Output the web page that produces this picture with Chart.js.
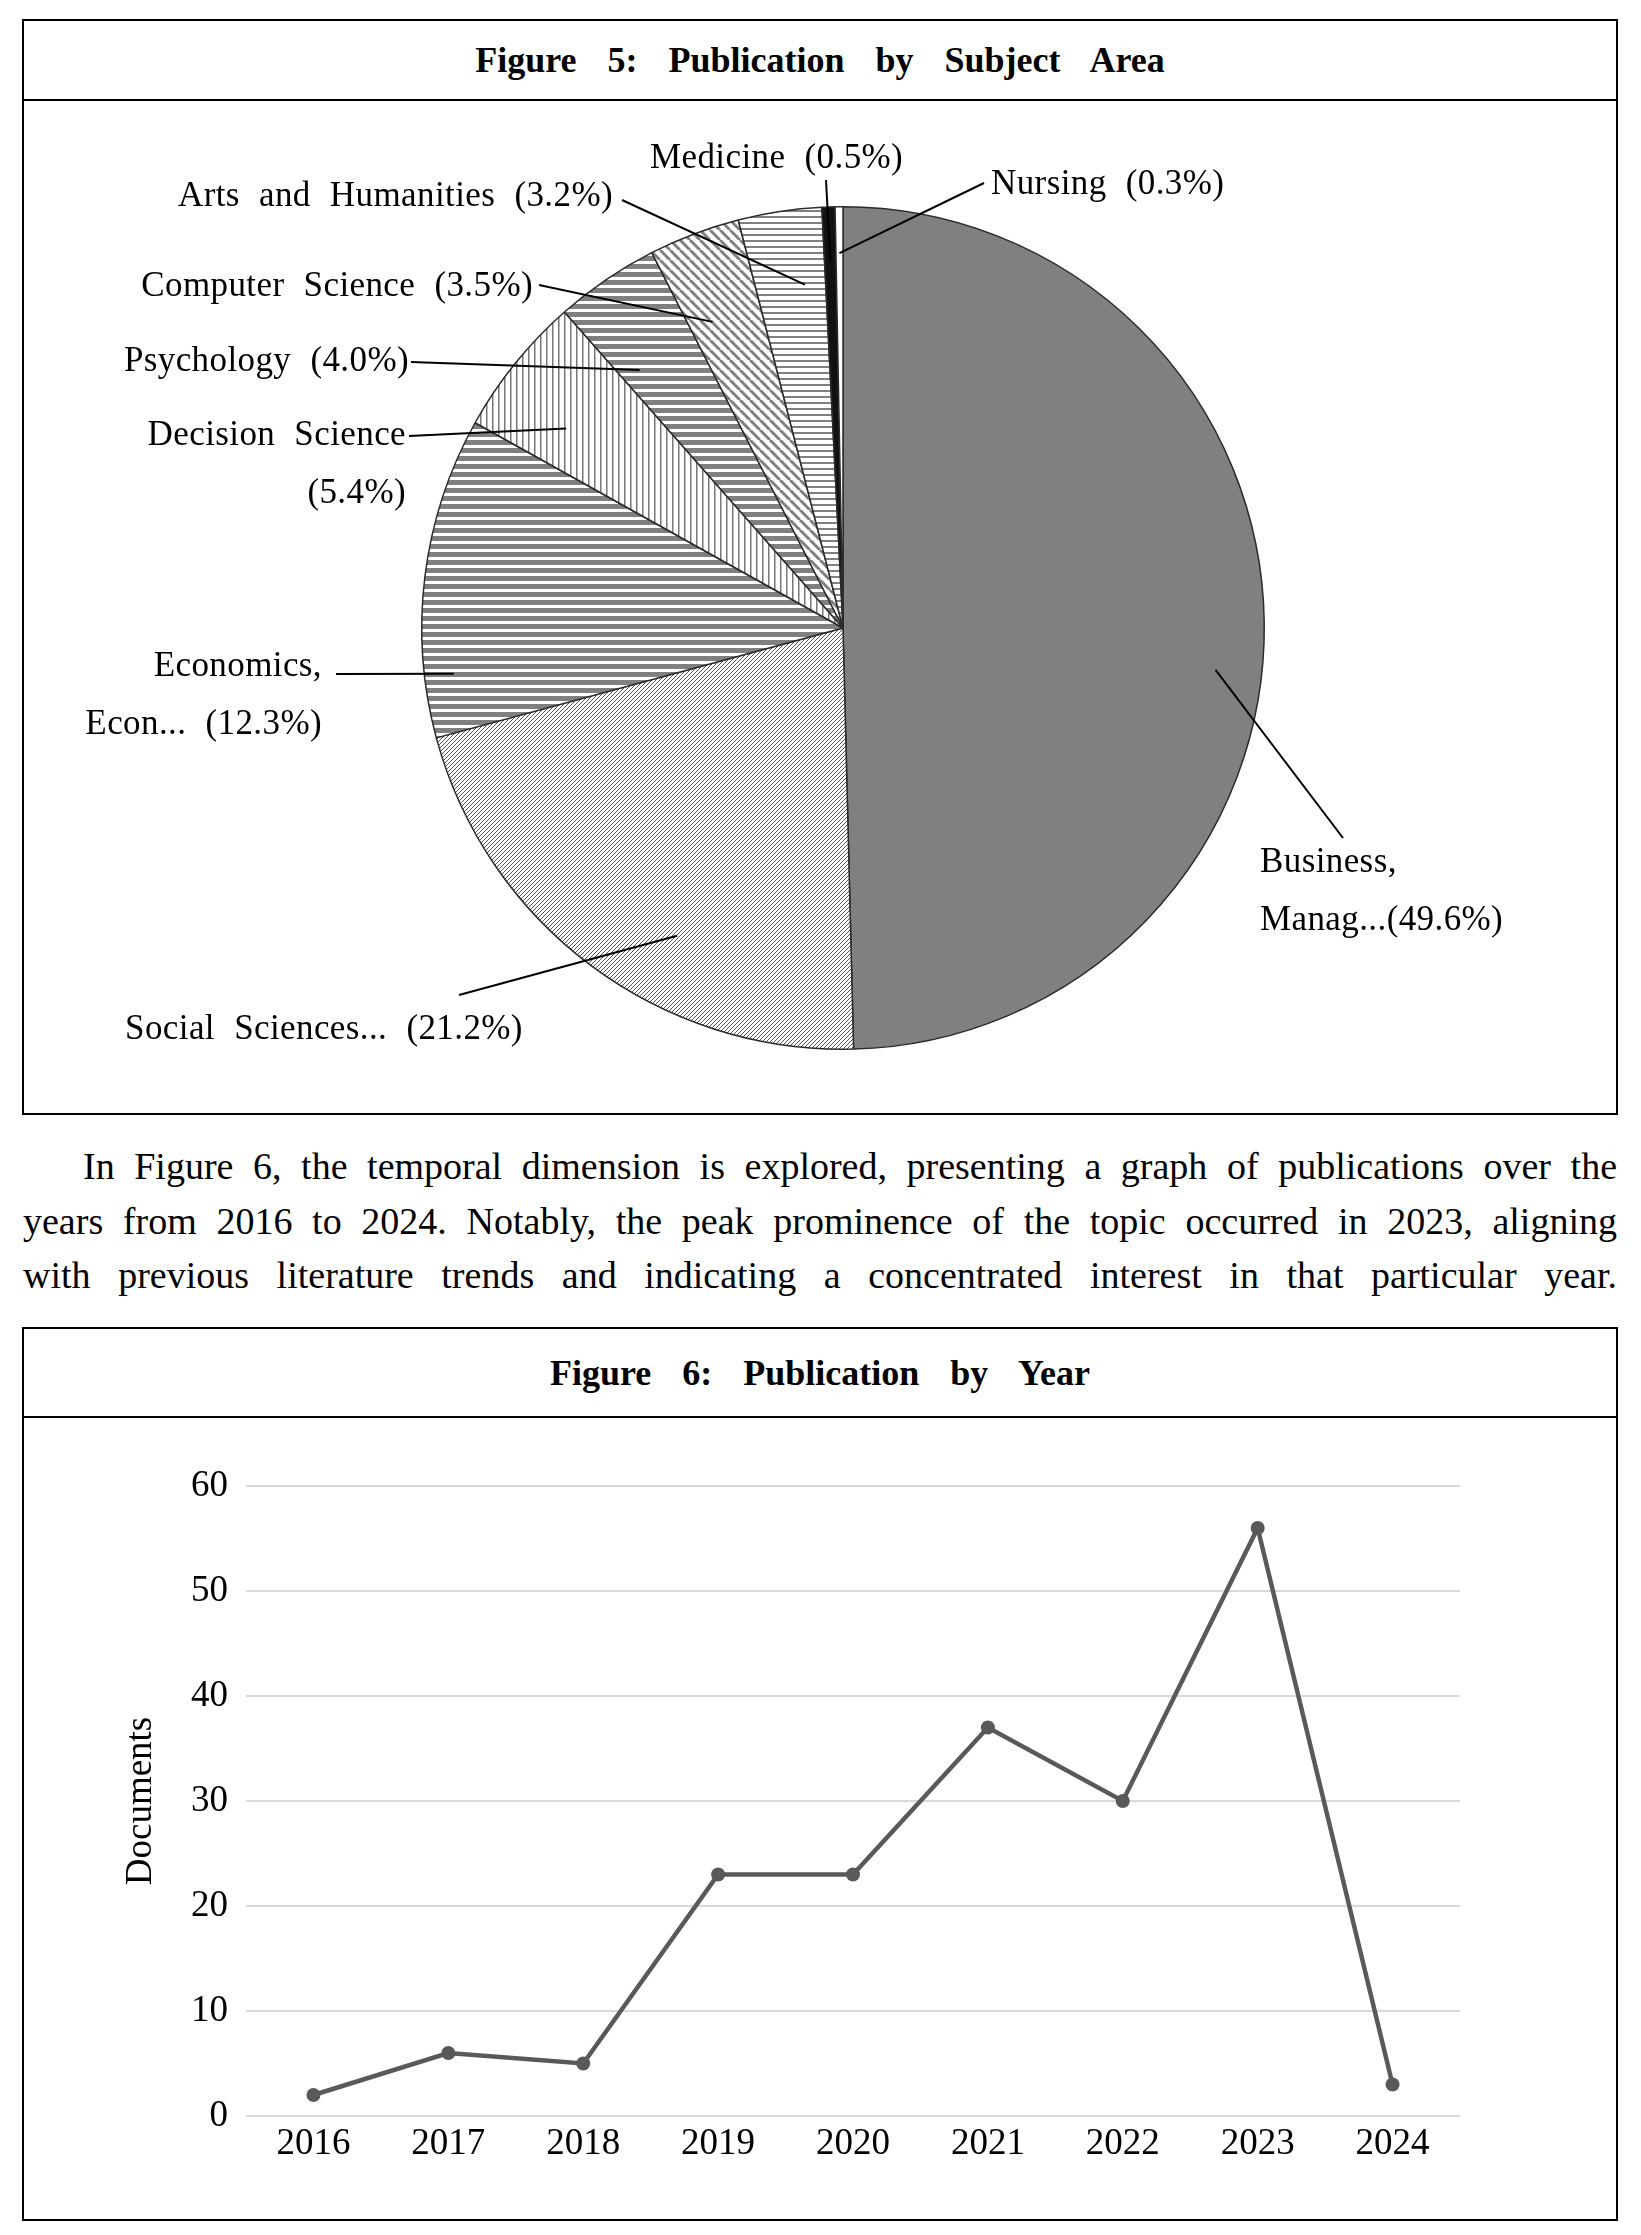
<!DOCTYPE html>
<html lang="en">
<head>
<meta charset="UTF-8">
<title>Figure 5 and Figure 6</title>
<style>
    body {
        margin: 0;
        background: #fff;
        font-family: 'Liberation Serif', 'Times New Roman', serif;
        color: #000;
    }
    .page {
        position: relative;
        width: 1641px;
        height: 2235px;
    }
    .figure {
        position: absolute;
        left: 22px;
        width: 1596px;
        box-sizing: border-box;
        border: 2.5px solid #000;
    }
    .fig5 { top: 19px; height: 1096px; }
    .fig6 { top: 1327px; height: 894px; }
    .fig-title {
        border-bottom: 2.5px solid #000;
        display: flex;
        align-items: center;
        justify-content: center;
        font-weight: bold;
        font-size: 36px;
        word-spacing: 22px;
    }
    .fig5 .fig-title { height: 78px; }
    .fig6 .fig-title { height: 87px; }
    .para {
        position: absolute;
        left: 23px;
        top: 1139px;
        width: 1594px;
        font-size: 38px;
        line-height: 54.5px;
    }
    .para div {
        text-align: justify;
        text-align-last: justify;
    }
    .para .first { text-indent: 60px; }
    #pie-chart { position: absolute; left: 0; top: 0; }
    #line-chart { position: absolute; left: 0; top: 1419px; }
</style>
</head>
<body>
<div class="page">
    <div class="figure fig5">
        <div class="fig-title">Figure 5: Publication by Subject Area</div>
    </div>

    <div class="para">
        <div class="first">In Figure 6, the temporal dimension is explored, presenting a graph of publications over the</div>
        <div>years from 2016 to 2024. Notably, the peak prominence of the topic occurred in 2023, aligning</div>
        <div>with previous literature trends and indicating a concentrated interest in that particular year.</div>
    </div>

    <div class="figure fig6">
        <div class="fig-title">Figure 6: Publication by Year</div>
    </div>

    <canvas id="pie-chart" width="1641" height="1115"></canvas>
    <canvas id="line-chart" width="1641" height="800"></canvas>
</div>

<script src="https://cdn.jsdelivr.net/npm/chart.js"></script>
<script>
    // Figure 5 data
    const subjectAreas = ['Business, Management and Accounting', 'Social Sciences', 'Economics, Econometrics and Finance',
        'Decision Sciences', 'Psychology', 'Computer Science', 'Arts and Humanities', 'Medicine', 'Nursing'];
    const subjectShares = [49.6, 21.2, 12.3, 5.4, 4.0, 3.5, 3.2, 0.5, 0.3];

    // Figure 6 data
    const years = ['2016', '2017', '2018', '2019', '2020', '2021', '2022', '2023', '2024'];
    const documentCounts = [2, 6, 5, 23, 23, 37, 30, 56, 3];
    const yMax = 60;
    const yStep = 10;

    const serif = "'Liberation Serif', 'Times New Roman', serif";
    const pct = i => '(' + subjectShares[i].toFixed(1) + '%)';

    // hatch fills like the original print
    function hatch(kind) {
        const c = document.createElement('canvas');
        const g = c.getContext('2d');
        const gray = '#808080';
        if (kind === 'fineDiag' || kind === 'backDiag') {
            const s = kind === 'fineDiag' ? 4 : 10;
            c.width = s; c.height = s;
            g.fillStyle = '#fff'; g.fillRect(0, 0, s, s);
            g.strokeStyle = kind === 'fineDiag' ? '#555' : gray;
            g.lineWidth = kind === 'fineDiag' ? 1 : 3;
            for (const x0 of [-s, 0, s]) {
                g.beginPath();
                if (kind === 'fineDiag') { g.moveTo(x0, s); g.lineTo(x0 + s, 0); }
                else { g.moveTo(x0, 0); g.lineTo(x0 + s, s); }
                g.stroke();
            }
        } else if (kind === 'vLine') {
            c.width = 6; c.height = 4;
            g.fillStyle = '#fff'; g.fillRect(0, 0, 6, 4);
            g.fillStyle = '#777'; g.fillRect(0, 0, 1.5, 4);
        } else {
            const h = kind === 'hThin' ? 6 : 8;
            const band = kind === 'hThin' ? 2 : 5;
            c.width = 4; c.height = h;
            g.fillStyle = '#fff'; g.fillRect(0, 0, 4, h);
            g.fillStyle = gray; g.fillRect(0, 0, 4, band);
        }
        return g.createPattern(c, 'repeat');
    }

    const sliceFills = ['#808080', hatch('fineDiag'), hatch('hBand'), hatch('vLine'), hatch('hBand'),
        hatch('backDiag'), hatch('hThin'), '#111', '#fff'];

    // label text, where it sits, where its leader starts, and where it points inside the slice
    const callouts = [
        { slice: 0, lines: ['Business,', 'Manag...' + pct(0)], x: 1260, y: 872, align: 'left', from: [1343, 838], at: [0.54, 0.89] },
        { slice: 1, lines: ['Social Sciences... ' + pct(1)], x: 324, y: 1039, align: 'center', from: [459, 995], at: [0.39, 0.83] },
        { slice: 2, lines: ['Economics,', 'Econ... ' + pct(2)], x: 322, y: 676, align: 'right', from: [336, 674], at: [0.19, 0.93] },
        { slice: 3, lines: ['Decision Science', pct(3)], x: 406, y: 445, align: 'right', from: [409, 436], at: [0.34, 0.81] },
        { slice: 4, lines: ['Psychology ' + pct(4)], x: 409, y: 371, align: 'right', from: [411, 362], at: [0.22, 0.78] },
        { slice: 5, lines: ['Computer Science ' + pct(5)], x: 533, y: 296, align: 'right', from: [539, 285], at: [0.31, 0.79] },
        { slice: 6, lines: ['Arts and Humanities ' + pct(6)], x: 613, y: 206, align: 'right', from: [622, 200], at: [0.70, 0.82] },
        { slice: 7, lines: ['Medicine ' + pct(7)], x: 650, y: 168, align: 'left', from: [826, 180], at: [0.5, 0.87] },
        { slice: 8, lines: ['Nursing ' + pct(8)], x: 991, y: 194, align: 'left', from: [984, 183], at: [0.5, 0.89] }
    ];

    const calloutPlugin = {
        id: 'callouts',
        afterDatasetsDraw(chart) {
            const ctx = chart.ctx;
            const arcs = chart.getDatasetMeta(0).data;
            ctx.save();
            ctx.strokeStyle = '#000';
            ctx.lineWidth = 2;
            ctx.fillStyle = '#000';
            ctx.font = '35px ' + serif;
            ctx.wordSpacing = '10px';
            ctx.letterSpacing = '0.4px';
            ctx.textBaseline = 'alphabetic';
            callouts.forEach(c => {
                const arc = arcs[c.slice];
                const a = arc.startAngle + c.at[0] * (arc.endAngle - arc.startAngle);
                const r = arc.outerRadius * c.at[1];
                ctx.beginPath();
                ctx.moveTo(c.from[0], c.from[1]);
                ctx.lineTo(arc.x + Math.cos(a) * r, arc.y + Math.sin(a) * r);
                ctx.stroke();
                ctx.textAlign = c.align;
                c.lines.forEach((t, k) => ctx.fillText(t, c.x, c.y + k * 58));
            });
            ctx.restore();
        }
    };

    // Pie chart
    new Chart(document.getElementById('pie-chart'), {
        type: 'pie',
        data: {
            labels: subjectAreas,
            datasets: [{
                data: subjectShares,
                backgroundColor: sliceFills,
                borderColor: '#2b2b2b',
                borderWidth: 1.5,
                hoverOffset: 0
            }]
        },
        options: {
            responsive: false,
            animation: false,
            layout: { padding: { left: 421, right: 376, top: 206, bottom: 65 } },
            plugins: {
                legend: { display: false },
                tooltip: { enabled: false }
            }
        },
        plugins: [calloutPlugin]
    });

    // Line chart
    const tickFont = { family: serif, size: 37 };
    new Chart(document.getElementById('line-chart'), {
        type: 'line',
        data: {
            labels: years,
            datasets: [{
                label: 'Documents',
                data: documentCounts,
                borderColor: '#595959',
                backgroundColor: '#595959',
                borderWidth: 4.5,
                pointRadius: 7,
                pointBorderWidth: 0,
                pointBackgroundColor: '#595959',
                tension: 0
            }]
        },
        options: {
            responsive: false,
            animation: false,
            layout: { padding: { left: 0, right: 181, top: 67, bottom: 0 } },
            plugins: {
                legend: { display: false },
                tooltip: { enabled: false }
            },
            scales: {
                x: {
                    offset: true,
                    grid: { display: false, drawTicks: false },
                    border: { display: false },
                    ticks: { font: tickFont, color: '#000', padding: 6, maxRotation: 0, autoSkip: false },
                    afterFit: s => { s.height = 103; }
                },
                y: {
                    min: 0,
                    max: yMax,
                    grid: { color: '#d9d9d9', lineWidth: 2, drawTicks: false },
                    border: { display: false },
                    ticks: { stepSize: yStep, font: tickFont, color: '#000', padding: 18 },
                    title: {
                        display: true,
                        text: 'Documents',
                        font: tickFont,
                        color: '#000',
                        padding: { top: 119, bottom: 0 }
                    },
                    afterFit: s => { s.width = 246; }
                }
            }
        }
    });
</script>
</body>
</html>
